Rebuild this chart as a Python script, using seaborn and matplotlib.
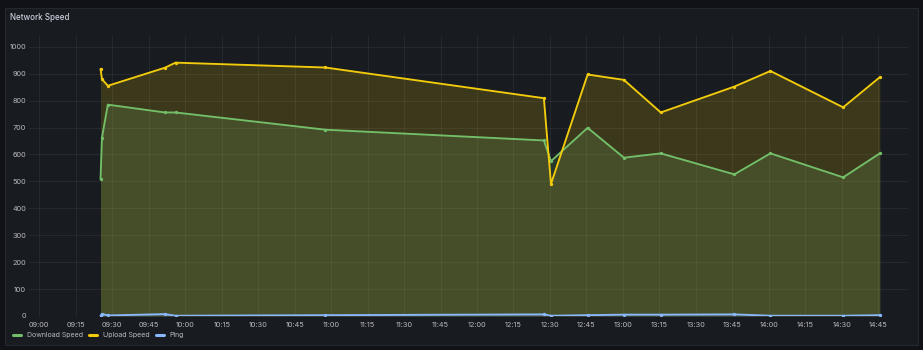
import matplotlib
matplotlib.use("Agg")
import matplotlib.pyplot as plt
import matplotlib.dates as mdates
from matplotlib.lines import Line2D
from matplotlib.patches import Rectangle
import seaborn as sns
import pandas as pd

# ---- data ----
times = ["09:25:10", "09:25:45", "09:28:10", "09:51:35", "09:56:00", "10:57:35",
         "12:27:30", "12:30:25", "12:45:30", "13:00:25", "13:15:35", "13:45:50",
         "14:00:40", "14:30:35", "14:45:40"]
download = [508, 662, 785, 756, 756, 692, 652, 575, 699, 588, 604, 526, 604, 515, 604]
upload = [918, 880, 855, 922, 941, 923, 809, 490, 897, 877, 756, 852, 910, 775, 887]
ping = [1, 8, 2, 7, 1, 3, 6, 1, 3, 5, 5, 6, 1, 1, 3]
series_names = ["Download Speed", "Upload Speed", "Ping"]
colors = {"Download Speed": "#73BF69", "Upload Speed": "#F2CC0C", "Ping": "#8AB8FF"}
title = "Network Speed"

day = "2024-01-01 "
t = pd.to_datetime([day + s for s in times])
df = pd.DataFrame({"time": list(t) * 3,
                   "value": download + upload + ping,
                   "series": sum([[n] * len(t) for n in series_names], [])})

sns.set_theme(style="dark")
plt.rcParams["font.family"] = ["Inter", "DejaVu Sans"]

BG_OUT = "#111217"
BG_PANEL = "#181b1f"
TXT = "#ccccdc"

fig = plt.figure(figsize=(9.23, 3.5), dpi=100, facecolor=BG_OUT)
fig.patches.append(Rectangle((5 / 923, 1 - 345 / 350), 913 / 923, 337 / 350,
                             transform=fig.transFigure, facecolor=BG_PANEL,
                             edgecolor="#24272e", linewidth=0.8, zorder=-10))
ax = fig.add_axes([29 / 923, 1 - 316 / 350, 879 / 923, 280 / 350])
ax.set_zorder(5)
ax.set_facecolor(BG_PANEL)
ax.patch.set_alpha(0)

# fills (drawn from the same series)
for name, vals in [("Upload Speed", upload), ("Download Speed", download), ("Ping", ping)]:
    ax.fill_between(t, vals, 0, color=colors[name], alpha=0.17, linewidth=0, zorder=1)

sns.lineplot(data=df, x="time", y="value", hue="series", palette=colors,
             hue_order=series_names, marker="o", markersize=2.4, markeredgewidth=0,
             linewidth=1.35, ax=ax, legend=False, zorder=3)

ax.set_xlim(pd.Timestamp(day + "08:55:45"), pd.Timestamp(day + "14:57:15"))
ax.set_ylim(0, 1040)
ax.set_yticks(range(0, 1001, 100))
ax.xaxis.set_major_locator(mdates.MinuteLocator(byminute=[0, 15, 30, 45]))
ax.xaxis.set_major_formatter(mdates.DateFormatter("%H:%M"))
ax.set_xlabel("")
ax.set_ylabel("")
for s in ax.spines.values():
    s.set_visible(False)
ax.grid(True, color="#ccccdc", alpha=0.08, linewidth=0.8)
ax.tick_params(axis="both", length=0, labelsize=5.3, labelcolor="#b8b8c4")
ax.tick_params(axis="y", pad=2)
ax.tick_params(axis="x", pad=4)

fig.text(10 / 923, 1 - 17 / 350, title, color=TXT, fontsize=5.8, fontweight="medium",
         va="center", ha="left")

handles = [Line2D([], [], color=colors[n], linewidth=2.2) for n in series_names]
fig.legend(handles, series_names, loc="center left",
           bbox_to_anchor=(13 / 923, 1 - 335.5 / 350), ncol=3, frameon=False,
           fontsize=5.0, labelcolor="#b8b8c4", handlelength=1.1, handletextpad=0.9,
           columnspacing=0.9, borderpad=0, borderaxespad=0)

fig.savefig("out.png", dpi=100, facecolor=BG_OUT)
